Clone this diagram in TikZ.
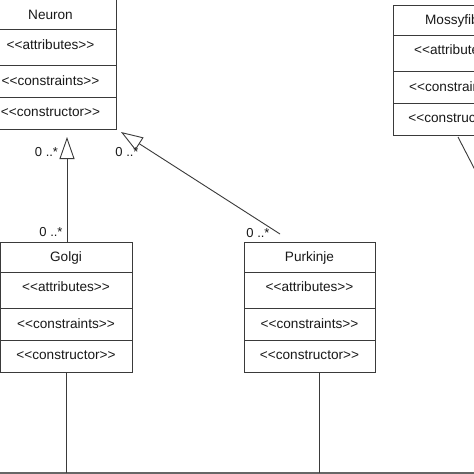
\documentclass[tikz,border=0pt]{standalone}
\usepackage{fontspec}
\newfontfamily\ls{Liberation Sans}
\usetikzlibrary{arrows.meta,calc}
\tikzset{
  clsbox/.style={draw=linecol, line width=0.9pt, rectangle, minimum height=130pt, inner sep=0pt, outer sep=0pt},
  rowline/.style={draw=linecol, line width=0.9pt},
  clstext/.style={font=\ls\fontsize{13.6}{16}\selectfont, inner sep=0pt, text=black!90},
  mult/.style={font=\ls\fontsize{13}{15}\selectfont, inner sep=0pt, text=black!90},
  conn/.style={draw=linecol, line width=0.9pt},
  gen/.style={conn, -{Triangle[open, length=22pt, width=15pt, line width=0.9pt]}},
}
\definecolor{linecol}{HTML}{3A3A3A}
\newcommand{\umlcls}[5]{%
  \node[clsbox, minimum width=#4pt, anchor=north west] (#1) at (#2,#3) {};
  \draw[rowline] ([yshift=-30pt]#1.north west) -- ([yshift=-30pt]#1.north east);
  \draw[rowline] ([yshift=-66pt]#1.north west) -- ([yshift=-66pt]#1.north east);
  \draw[rowline] ([yshift=-98pt]#1.north west) -- ([yshift=-98pt]#1.north east);
  \node[clstext] (#1-name) at ([yshift=-15.5pt]#1.north) {#5};
  \node[clstext] (#1-attr) at ([yshift=-45pt]#1.north) {<<attributes>>};
  \node[clstext] (#1-cons) at ([yshift=-81.5pt]#1.north) {<<constraints>>};
  \node[clstext] (#1-ctor) at ([yshift=-113pt]#1.north) {<<constructor>>};
}
\begin{document}
\begin{tikzpicture}[x=1pt,y=-1pt]
\useasboundingbox (0,0) rectangle (474,474);
\fill[white] (0,0) rectangle (474,474);
\clip (0,0) rectangle (474,474);
\umlcls{neuron}{-15}{-0.5}{131}{Neuron}
\umlcls{golgi}{0}{242}{132}{Golgi}
\umlcls{purk}{244}{242}{131}{Purkinje}
\umlcls{mossy}{393}{5}{130}{Mossyfiber}
% bottom line
\coordinate (bl) at (0,473);
\coordinate (br) at (474,473);
\draw[draw=black!60, line width=2.2pt] (bl) -- (br);
\draw[conn] (golgi.south) -- (golgi.south |- bl);
\draw[conn] ([xshift=9.5pt]purk.south) -- ([xshift=9.5pt]purk.south |- bl);
% mossy fiber connector going off the picture
\coordinate (mfout) at (490,199);
\draw[conn] ([yshift=-2pt]mossy.south) -- (mfout);
% generalisations
\path (golgi.north) ++(1,-105) coordinate (ngtip);
\draw[gen] ([xshift=1pt]golgi.north) -- (ngtip);
\coordinate (pktail) at (280,234);
\coordinate (nptip) at (121,132);
\draw[gen] (pktail) -- (nptip);
% multiplicities
\node[mult] (m1) at (46.5,152) {0 ..*};
\node[mult] (m2) at (51,232) {0 ..*};
\node[mult] (m3) at (127,152) {0 ..*};
\node[mult] (m4) at (258,233) {0 ..*};
\end{tikzpicture}
\end{document}
